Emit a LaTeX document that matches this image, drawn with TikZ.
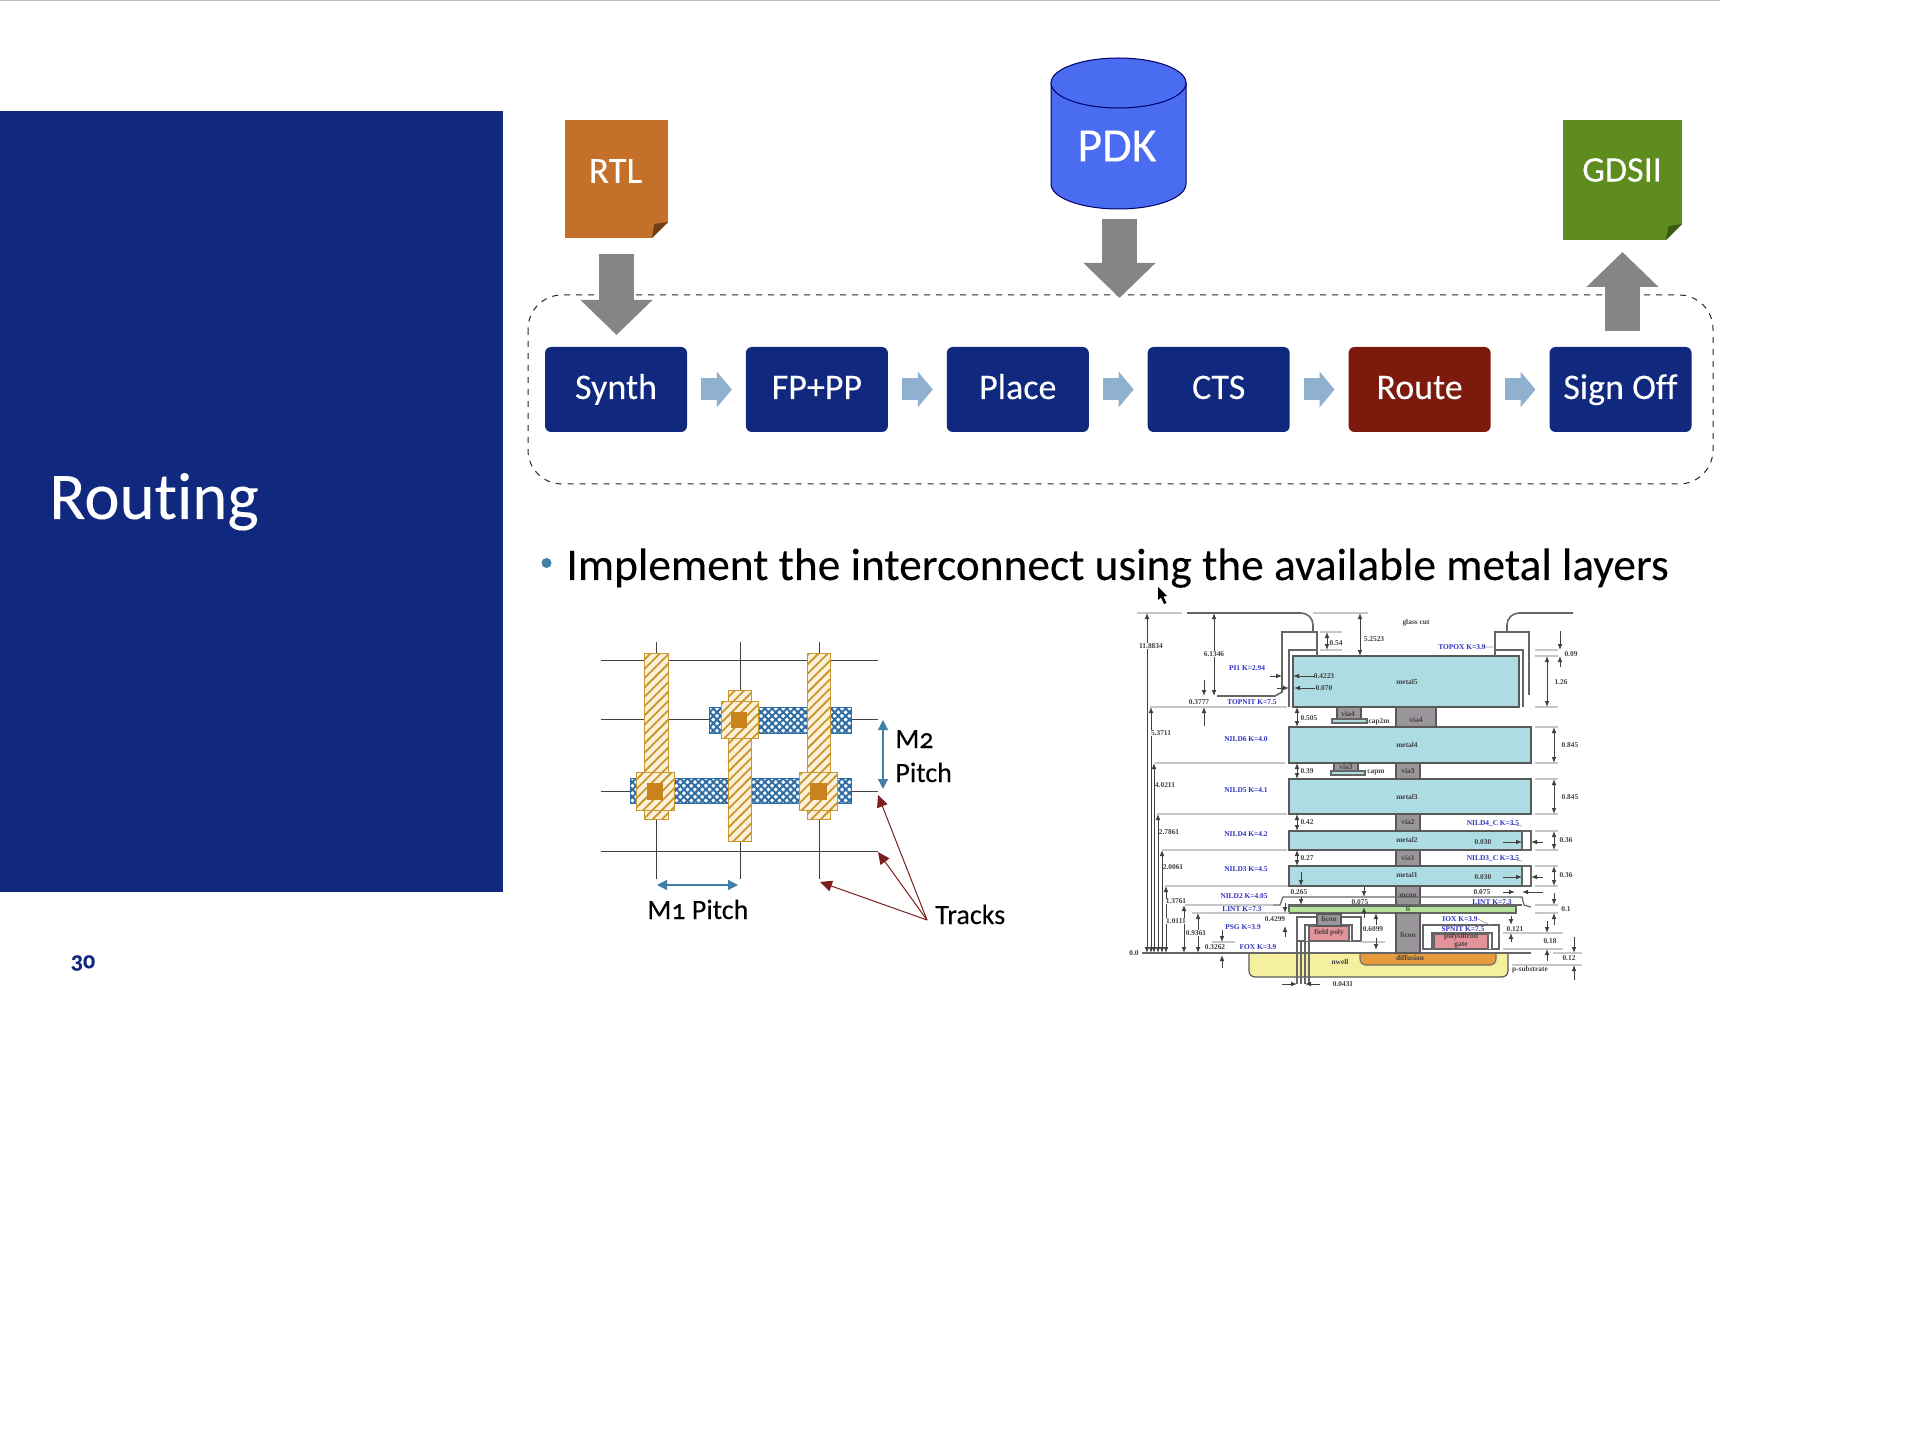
\documentclass[tikz,border=0pt]{standalone}
\usepackage{fontspec}
\setmainfont[Numbers=OldStyle,Ligatures=NoCommon,FakeBold=0.12]{Carlito}
\newfontfamily\stackfont{Liberation Serif}
\usetikzlibrary{arrows.meta,positioning,patterns.meta}
\definecolor{navy}{HTML}{10297F}
\definecolor{routered}{HTML}{7C1A0E}
\definecolor{rtlcol}{HTML}{C5702A}
\definecolor{rtlfold}{HTML}{6E3E12}
\definecolor{gdscol}{HTML}{5F8C1E}
\definecolor{gdsfold}{HTML}{3C5A12}
\definecolor{pdkcol}{HTML}{4A6CF0}
\definecolor{flowarrow}{HTML}{8FB0CF}
\definecolor{bigarrow}{HTML}{858585}
\definecolor{mone}{HTML}{C9962F}
\definecolor{monebg}{HTML}{FBF1D8}
\definecolor{mtwo}{HTML}{2E6CA4}
\definecolor{viacol}{HTML}{C8831C}
\definecolor{pitchcol}{HTML}{3F7FA8}
\definecolor{trackcol}{HTML}{7A1F1F}
\definecolor{metalcol}{HTML}{ADDDE3}
\definecolor{viagray}{HTML}{9A959A}
\definecolor{kcol}{HTML}{3030C0}
\definecolor{polycol}{HTML}{E4929A}
\definecolor{wellcol}{HTML}{F5F0A0}
\definecolor{diffcol}{HTML}{E59A3C}
\definecolor{licol}{HTML}{B6E39A}
\tikzset{
  x=0.5pt,y=-0.5pt,
  stage/.style={rectangle,rounded corners=3pt,fill=navy,text=white,outer sep=0pt,minimum width=71pt,minimum height=42.5pt,inner sep=0pt,text height=13.5pt,text depth=4pt,font=\fontsize{18}{20}\selectfont},
  docfile/.style 2 args={rectangle,fill=#1,inner sep=0pt,outer sep=0pt,
    path picture={\fill[white] (path picture bounding box.south east) ++(0,8pt) -- ++(-8pt,-8pt) -- ++(8pt,0) -- cycle;
      \fill[#2] (path picture bounding box.south east) ++(0,8pt) -- ++(-8pt,-8pt) -- ++(1.2pt,7pt) -- cycle;}},
  doctext/.style={inner sep=0pt,text=white,font=\fontsize{18.5}{20}\selectfont},
  bigflow/.style={draw=bigarrow,line width=17.5pt,-{Triangle[width=35pt,length=17.5pt]}},
  smallflow/.style={draw=flowarrow,line width=11pt,-{Triangle[width=17.5pt,length=7.5pt]},shorten <=7.2pt,shorten >=7pt},
  mtwobar/.style={draw=mtwo,line width=0.5pt,fill=white,postaction={pattern={Hatch[angle=45,distance=2.6pt,line width=1pt]},pattern color=mtwo}},
  monebar/.style={draw=mone,line width=0.5pt,fill=monebg,postaction={pattern={Lines[angle=45,distance=3.3pt,line width=0.9pt]},pattern color=mone}},
  track/.style={draw=black!75,line width=0.4pt},
  pitcharrow/.style={draw=pitchcol,line width=0.6pt,{Triangle[width=5pt,length=5pt]}-{Triangle[width=5pt,length=5pt]}},
  trackarrow/.style={draw=trackcol,line width=0.5pt,-{Triangle[width=5.5pt,length=6pt]}},
  metal/.style={draw=black!65,line width=0.6pt,fill=metalcol},
  viablock/.style={draw=black!65,line width=0.6pt,fill=viagray},
  liner/.style={draw=black!60,line width=0.6pt},
  refline/.style={draw=black!22,line width=0.7pt},
  dimarrow/.style={draw=black!75,line width=0.5pt,-{Latex[width=2.4pt,length=3pt]}},
  dimboth/.style={draw=black!75,line width=0.5pt,{Latex[width=2.4pt,length=3pt]}-{Latex[width=2.4pt,length=3pt]}},
  stacktext/.style={inner sep=0pt,text=black!75,font=\stackfont\fontsize{3.7}{4}\selectfont\bfseries},
  ktext/.style={stacktext,text=kcol},
  slidetext/.style={inner sep=0pt,anchor=base west,text=black,font=\fontsize{14}{16}\selectfont}
}
\begin{document}
\begin{tikzpicture}
\useasboundingbox (0,0) rectangle (1918,1444);
\fill[black!25] (0,0) rectangle (1720,1.5);

% left panel
\fill[navy] (0,111) rectangle (503,892);
\node (title) [inner sep=0pt,anchor=base west,text=white,font=\fontsize{33.4}{40}\selectfont] at (49,519) {Routing};
\node (pagenum) [inner sep=0pt,text=navy,font=\fontsize{12}{14}\selectfont\bfseries] at (83,963) {30};

% flow
\draw[dashed,black!85,line width=0.5pt,rounded corners=17pt] (528,295) rectangle (1713,484);
\coordinate (flowtop) at (1119.5,295);
\node (synth) [stage] at (616,389.5) {Synth};
\node (fppp) [stage,right=29.45pt of synth] {FP+PP};
\node (place) [stage,right=29.45pt of fppp] {Place};
\node (cts) [stage,right=29.45pt of place] {CTS};
\node (route) [stage,right=29.45pt of cts,fill=routered] {Route};
\node (signoff) [stage,right=29.45pt of route] {Sign Off};

\node (rtl) [docfile={rtlcol}{rtlfold},minimum width=51.5pt,minimum height=59pt] at (616.5,179) {};
\node (rtltext) [doctext] at (615.5,171) {RTL};
\node (gds) [docfile={gdscol}{gdsfold},minimum width=59.5pt,minimum height=60pt] at (1622.5,180) {};
\node (gdstext) [doctext,font=\fontsize{18}{20}\selectfont] at (1622,170) {GDSII};
\node (pdk) [inner sep=0pt,outer sep=0pt,minimum width=67.5pt,minimum height=75.5pt] at (1118.5,133.5) {};
\draw[black!60!blue,line width=0.5pt,fill=pdkcol] (pdk.north west) ++(0,-12.5pt) -- ([yshift=12.5pt]pdk.south west) arc[start angle=180,end angle=360,x radius=33.75pt,y radius=12.5pt] -- ([yshift=-12.5pt]pdk.north east) -- cycle;
\draw[black!60!blue,line width=0.5pt,fill=pdkcol] ([yshift=-12.5pt]pdk.north) ellipse [x radius=33.75pt,y radius=12.5pt];
\node (pdktext) [inner sep=0pt,text=white,font=\fontsize{24}{28}\selectfont] at (1117,146) {PDK};

\draw[bigflow,shorten <=8pt,shorten >=6pt] (rtl.south) -- (rtl.south |- synth.north);
\draw[bigflow,shorten <=5pt,shorten >=-1.5pt] (pdk.south -| flowtop) -- (flowtop);
\draw[bigflow,shorten <=8pt,shorten >=6pt] (signoff.north -| gds.south) -- (gds.south);

\foreach \a/\b in {synth/fppp,fppp/place,place/cts,cts/route,route/signoff}
  \draw[smallflow] (\a) -- (\b);

% bullet
\fill[pitchcol] (546.5,563) circle (2.5pt);
\node (bullet) [inner sep=0pt,anchor=base west,font=\fontsize{22.7}{26}\selectfont] at (566,580) {Implement the interconnect using the available metal layers};
\fill[black] (1158,587) -- (1158,600) -- (1161,597.5) -- (1164,604) -- (1166.5,603) -- (1163.5,596.5) -- (1167,596) -- cycle;

% tracks
\foreach \yt in {660,719,791,851}
  \draw[track] (601,\yt) -- (878,\yt);
\foreach \xt in {656,740,819}
  \draw[track] (\xt,642) -- (\xt,879);

\path[mtwobar] (709,707) rectangle (851,733);
\path[mtwobar] (630,778) rectangle (851,803);
\path[monebar] (728,690) rectangle (751,841);
\path[monebar] (644,653) rectangle (668,819);
\path[monebar] (807,653) rectangle (830,819);
\path[monebar] (636,772) rectangle (674,810);
\path[monebar] (721,701) rectangle (758,738);
\path[monebar] (799,772) rectangle (837,810);
\fill[viacol] (647,783) rectangle (663,800);
\fill[viacol] (731,712) rectangle (747,728);
\fill[viacol] (810,783) rectangle (827,800);

\coordinate (mtwotop) at (883,720);
\coordinate (mtwobot) at (883,789);
\coordinate (monel) at (657,885);
\coordinate (moner) at (738,885);
\draw[pitcharrow] (mtwotop) -- (mtwobot);
\draw[pitcharrow] (monel) -- (moner);
\node (mtwolabel) [slidetext] at (895,748) {M2};
\node (pitchlabel) [slidetext] at (895,782) {Pitch};
\node (monelabel) [slidetext] at (647,919) {M1 Pitch};
\node (trackslabel) [slidetext] at (935,924) {Tracks};

\coordinate (trackfrom) at (927,920);
\coordinate (tracka) at (878,795);
\coordinate (trackb) at (878,852);
\coordinate (trackc) at (820,882);
\foreach \t in {tracka,trackb,trackc}
  \draw[trackarrow] (trackfrom) -- (\t);

% layer stack
\draw[black!65,line width=0.6pt,fill=wellcol,rounded corners=3pt] (1249,953) -- (1249,977) -- (1508,977) -- (1508,953);
\draw[black!55,line width=0.6pt,fill=diffcol,rounded corners=3pt] (1360,953) -- (1360,965) -- (1496,965) -- (1496,953);
\draw[refline,black!60] (1142,953) -- (1235,953);
\draw[refline,black!60] (1235,953) -- (1531,953);

\path[liner,fill=licol] (1289,906) rectangle (1516,913);
\path[metal] (1293,656) rectangle (1519,707);
\path[metal] (1289,727) rectangle (1531,763);
\path[metal] (1289,779) rectangle (1531,814);
\path[metal] (1289,831) rectangle (1531,850);
\path[metal] (1289,866) rectangle (1531,886);
\path[viablock] (1396,707) rectangle (1436,727);
\path[viablock] (1396,763) rectangle (1420,779);
\path[viablock] (1396,814) rectangle (1420,831);
\path[viablock] (1396,850) rectangle (1420,866);
\path[viablock] (1396,886) rectangle (1420,906);
\path[viablock] (1396,913) rectangle (1420,953);
\path[viablock] (1337,707) rectangle (1361,719);
\path[viablock] (1334,763) rectangle (1358,771);
\path[liner,fill=metalcol] (1332,719) rectangle (1367,723);
\path[liner,fill=metalcol] (1331,771) rectangle (1365,775);
\draw[liner,fill=white] (1522,831) rectangle (1531,850) (1522,866) rectangle (1531,886);

% glass cut and nitride
\draw[liner,line width=0.8pt,rounded corners=6pt] (1187,613) -- (1313,613) -- (1313,632);
\draw[liner,line width=0.8pt,rounded corners=6pt] (1573,613) -- (1507,613) -- (1507,632);
\draw[liner,line width=0.8pt] (1217,696) -- (1275,696) -- (1282,692) -- (1282,632) -- (1317,632) -- (1317,656);
\draw[liner,line width=0.8pt] (1289,707) -- (1289,650) -- (1317,650);
\draw[liner,line width=0.8pt] (1495,656) -- (1495,632) -- (1529,632) -- (1529,695);
\draw[liner,line width=0.8pt] (1495,650) -- (1523,650) -- (1523,707);
\draw[liner] (1273,905) -- (1280,905) -- (1283,897) -- (1522,897) -- (1524,905) -- (1531,907);
\draw[liner] (1288,905) -- (1522,905);

% poly structures
\path[liner,fill=white] (1297,941) -- (1297,917) -- (1361,917) -- (1361,941) -- cycle;
\path[liner,fill=white] (1305,941) -- (1305,925) -- (1352,925) -- (1352,941);
\path[liner,fill=polycol] (1309,926) rectangle (1349,941);
\path[viablock] (1317,914) rectangle (1341,926);
\path[liner,fill=white] (1423,949) -- (1423,925) -- (1499,925) -- (1499,949) -- cycle;
\path[liner,fill=white] (1432,949) -- (1432,933) -- (1492,933) -- (1492,949);
\path[liner,fill=polycol] (1434,934) rectangle (1488,949);
\draw[liner] (1297,941) -- (1297,984) (1301,941) -- (1301,984) (1305,941) -- (1305,984) (1309,941) -- (1309,984);

% light reference lines
\foreach \xa/\xb/\yr in {1137/1182/613,1313/1368/613,1150/1287/707,1155/1285/763,1157/1287/814,1162/1287/850,1165/1288/886,1185/1273/905,1192/1289/913,1320/1342/632,1320/1342/650,1535/1558/650,1535/1558/656,1535/1558/707,1535/1558/727,1535/1558/763,1535/1558/779,1535/1558/814,1535/1558/831,1535/1558/850,1535/1558/866,1535/1558/886,1535/1558/905,1535/1558/913,1503/1563/933,1503/1563/949,1553/1582/953,1512/1582/965,1212/1235/942,1361/1385/942}
  \draw[refline] (\xa,\yr) -- (\xb,\yr);

% dimensions
\foreach \xd/\yd in {1147/613,1151/707,1154/763,1158/814,1162/850,1166/886,1184/905,1198/913}
  \draw[dimboth] (\xd,\yd) -- (\xd,953);
\foreach \xd/\ya/\yb in {1214/613/696,1360/613/656,1297/707/727,1297/763/779,1297/814/831,1297/850/866,1547/656/707,1554/727/763,1554/779/814,1554/831/850,1554/866/886,1327/632/650}
  \draw[dimboth] (\xd,\ya) -- (\xd,\yb);
\foreach \xa/\ya/\xb/\yb in {1204/680/1204/696,1204/726/1204/707,1222/930/1222/942,1222/968/1222/955,1285/903/1285/913,1285/937/1285/926,1301/872/1301/886,1301/897/1301/905,1364/887/1364/897,1364/918/1364/907,1376/925/1376/913,1376/938/1376/950,1560/631/1560/650,1560/667/1560/656,1554/893/1554/905,1554/925/1554/913,1547/921/1547/933,1547/961/1547/949,1574/937/1574/953,1574/980/1574/965,1511/916/1511/925,1511/942/1511/933,1270/676/1282/676,1315/676/1293/676,1277/688/1289/688,1315/688/1294/688,1503/842/1522/842,1543/842/1531/842,1503/877/1522/877,1543/877/1531/877,1503/892/1515/892,1543/892/1522/892,1282/984/1297/984,1320/984/1305/984}
  \draw[dimarrow] (\xa,\ya) -- (\xb,\yb);
\draw[black!40,line width=0.3pt] (1481,647) -- (1495,647) (1510,824) -- (1522,826) (1510,859) -- (1522,861) (1478,919) -- (1490,925);

% stack labels
\foreach \px/\py/\txt [count=\i] in {1151/646/11.8834,1214/654/6.1346,1161/733/5.3711,1165/785/4.0211,1169/832/2.7861,1173/867/2.0061,1176/901/1.3761,1176/921/1.0111,1196/933/0.9361}
  \node (height\i) [stacktext,fill=white] at (\px,\py) {\txt};
\foreach \px/\py/\txt [count=\i] in {1374/639/5.2523,1336/643/0.54,1324/676/0.4223,1324/688/0.070,1199/702/0.3777,1309/718/0.505,1307/771/0.39,1307/822/0.42,1307/858/0.27,1299/892/0.265,1215/947/0.3262,1275/919/0.4299,1360/902/0.075,1373/929/0.6099,1134/953/0.0,1343/984/0.0431,1571/654/0.09,1561/682/1.26,1570/745/0.845,1570/797/0.845,1566/840/0.36,1566/875/0.36,1566/909/0.1,1550/941/0.18,1569/958/0.12,1515/929/0.121,1483/842/0.030,1483/877/0.030,1482/892/0.075,1416/623/glass cut,1407/682/metal5,1407/745/metal4,1407/797/metal3,1407/840/metal2,1407/875/metal1,1416/720/via4,1408/771/via3,1408/822/via2,1408/858/via1,1408/896/mcon,1408/935/licon,1348/714/via4,1346/767/via3,1379/722/cap2m,1376/773/capm,1329/919/licon,1329/933/field poly,1340/962/nwell,1410/958/diffusion,1530/970/p-substrate,1408/909/li}
  \node (stack\i) [stacktext] at (\px,\py) {\txt};
\foreach \px/\py/\txt [count=\i] in {1247/668/PI1 K=2.94,1252/702/TOPNIT K=7.5,1246/739/NILD6 K=4.0,1246/790/NILD5 K=4.1,1246/834/NILD4 K=4.2,1246/869/NILD3 K=4.5,1244/896/NILD2 K=4.05,1242/909/LINT K=7.3,1243/927/PSG K=3.9,1258/947/FOX K=3.9,1462/647/TOPOX K=3.9,1493/824/NILD4\_C K=3.5,1493/859/NILD3\_C K=3.5,1492/902/LINT K=7.3,1460/919/IOX K=3.9,1463/929/SPNIT K=7.5}
  \node (kval\i) [ktext] at (\px,\py) {\txt};
\node (gate) [stacktext,align=center] at (1461,941) {polysilicon\\gate};
\end{tikzpicture}
\end{document}
